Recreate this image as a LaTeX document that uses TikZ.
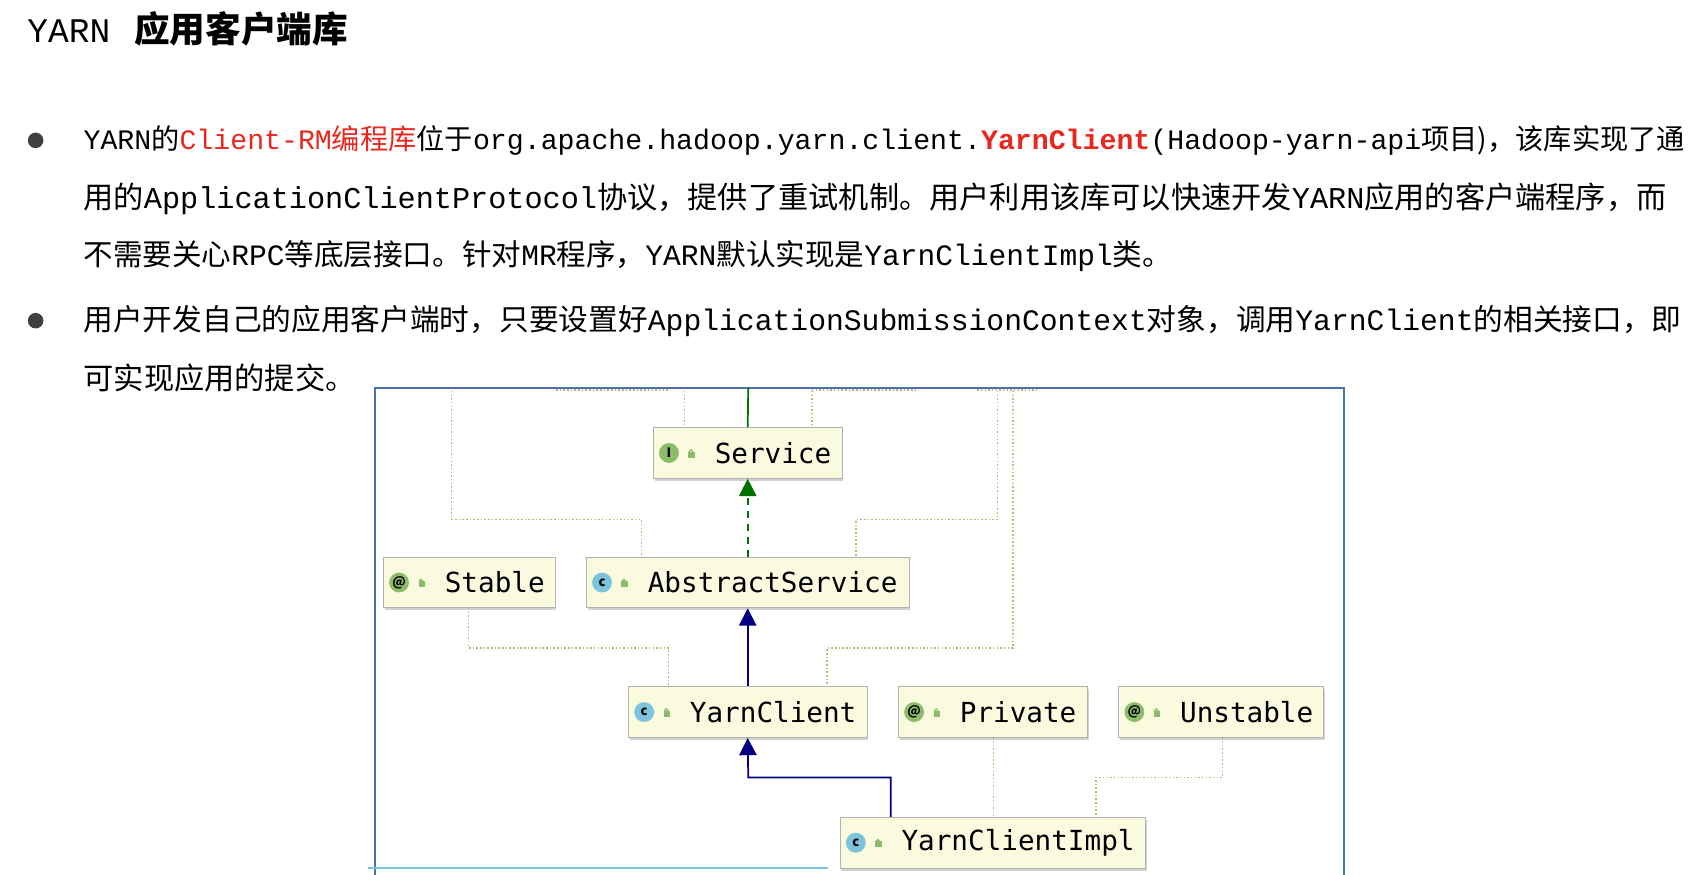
\documentclass[tikz,border=0pt]{standalone}
\usepackage{fontspec}
\setmainfont{Noto Sans CJK SC}
\newfontfamily\mono{Liberation Mono}
\newfontfamily\dmono{DejaVu Sans Mono}
\usetikzlibrary{arrows.meta,shadows}
\definecolor{redt}{HTML}{E8281E}
\definecolor{navy}{HTML}{000080}
\definecolor{dgreen}{HTML}{007000}
\definecolor{tan}{HTML}{C8B478}
\definecolor{frame}{HTML}{4A74A8}
\definecolor{boxfill}{HTML}{FAFADF}
\definecolor{igreen}{HTML}{8DBB6C}
\definecolor{cblue}{HTML}{7CC4DE}
\tikzset{
  line/.style={anchor=west,inner sep=0pt,font=\fontsize{14pt}{16pt}\selectfont},
  ubox/.style={draw=gray!60,fill=boxfill,minimum height=23.5pt,inner sep=0pt,
    drop shadow={shadow xshift=0.6pt,shadow yshift=-1.2pt,opacity=0.35}},
  utxt/.style={anchor=west,inner sep=0pt,font=\dmono\fontsize{12.8pt}{14pt}\selectfont},
  dotl/.style={tan,densely dotted,line width=0.7pt},
  inh/.style={-{Triangle[length=8pt,width=8pt]},line width=0.8pt}
}
\newcommand\umlbox[7]{%
  \node[ubox,minimum width=#4*0.5pt] (#1) at (#2,#3) {};
  \fill[#6] ([xshift=7.5pt]#1.west) circle (4.6pt);
  \node[inner sep=0pt,font=\fontsize{6pt}{6pt}\selectfont\bfseries] at ([xshift=7.5pt]#1.west) {#7};
  \fill[igreen] ([xshift=16.5pt,yshift=-2.2pt]#1.west) rectangle ([xshift=19.5pt,yshift=0.6pt]#1.west);
  \draw[igreen,line width=0.6pt] ([xshift=16.8pt,yshift=0.6pt]#1.west) arc (180:0:0.9pt);
  \node[utxt] at ([xshift=28.5pt]#1.west) {#5};
}
\begin{document}
\begin{tikzpicture}[x=0.5pt,y=-0.5pt]
\useasboundingbox (0,0) rectangle (1568,810);
\fill[white] (0,0) rectangle (1568,810);
% title
\node[anchor=west,inner sep=0pt] (title) at (25,27) {{\mono\fontsize{16pt}{18pt}\selectfont YARN}\hspace{11pt}{\fontsize{16.5pt}{18pt}\selectfont\bfseries 应用客户端库}};
% bullets
\fill[black!75] (33,130) circle (3.6pt);
\fill[black!75] (33,297) circle (3.6pt);
\node[line] (l1) at (77,130) {\resizebox{741.5pt}{!}{{\mono YARN}的\textcolor{redt}{{\mono Client-RM}编程库}位于{\mono org.apache.hadoop.yarn.client.}\textcolor{redt}{\mono\bfseries YarnClient}{\mono (Hadoop-yarn-api}项目)，该库实现了通}};
\node[line] (l2) at (77,184) {\resizebox{733pt}{!}{用的{\mono ApplicationClientProtocol}协议，提供了重试机制。用户利用该库可以快速开发{\mono YARN}应用的客户端程序，而}};
\node[line] (l3) at (77,237) {\resizebox{504pt}{!}{不需要关心{\mono RPC}等底层接口。针对{\mono MR}程序，{\mono YARN}默认实现是{\mono YarnClientImpl}类。}};
\node[line] (l4) at (77,297) {\resizebox{740pt}{!}{用户开发自己的应用客户端时，只要设置好{\mono ApplicationSubmissionContext}对象，调用{\mono YarnClient}的相关接口，即}};
\node[line] (l5) at (77,350) {可实现应用的提交。};
% frame
\fill[white] (347,359) rectangle (1245,812);
\draw[frame,line width=0.9pt] (347,812) -- (347,359) -- (1245,359) -- (1245,812);
\draw[cblue,line width=1pt] (341,804) -- (767,804);
% dotted edges
\draw[dotl] (418,362) |- (594,481) -- (594,516);
\draw[dotl] (634,362) -- (634,396);
\draw[dotl] (752,362) -- (752,396);
\draw[dotl] (924,362) |- (793,481) -- (793,516);
\draw[dotl] (938,362) |- (766,600) -- (766,636);
\draw[dotl] (434,563) |- (619,600) -- (619,636);
\draw[dotl] (920,683) -- (920,757);
\draw[dotl] (1132,683) |- (1015,720) -- (1015,757);
\draw[dotl] (515,361) -- (620,361);
\draw[dotl] (752,361) -- (850,361);
\draw[dotl] (905,361) -- (960,361);
% boxes
\umlbox{service}{692.5}{419.5}{175}{Service}{igreen}{I}
\umlbox{stable}{434.5}{539.5}{159}{Stable}{igreen}{@}
\umlbox{abs}{692.5}{539.5}{299}{AbstractService}{cblue}{c}
\umlbox{yc}{692.5}{659.5}{221}{YarnClient}{cblue}{c}
\umlbox{priv}{919.5}{659.5}{175}{Private}{igreen}{@}
\umlbox{unst}{1131}{659.5}{190}{Unstable}{igreen}{@}
\umlbox{yci}{919.5}{780.5}{283}{YarnClientImpl}{cblue}{c}
% solid edges
\draw[dgreen,line width=0.8pt] (693,359) -- (service.north);
\draw[inh,dgreen,dashed] (abs.north) -- (service.south);
\draw[inh,navy] (yc.north) -- (abs.south);
\draw[inh,navy] (yci.north -| 825,0) |- (693,720) -- (yc.south);
\end{tikzpicture}
\end{document}
